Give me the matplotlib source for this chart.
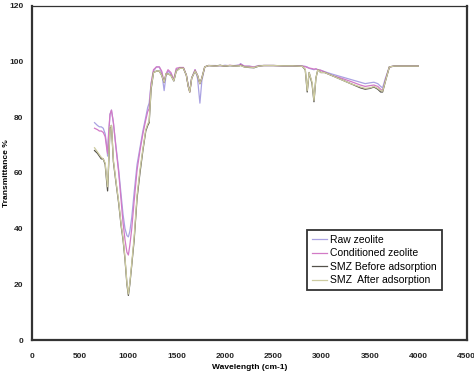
import matplotlib
matplotlib.use('Agg')
import matplotlib.pyplot as plt

plt.rcParams['font.family'] = ['Liberation Sans', 'DejaVu Sans']

# wavenumbers (cm-1) shared by all four spectra
wavenumber = [650, 680, 700, 720, 740, 760, 775, 785, 795, 810,
              825, 845, 870, 900, 925, 945, 965, 985, 1000, 1015,
              1035, 1060, 1090, 1120, 1150, 1180, 1200, 1215, 1235, 1260,
              1290, 1320, 1345, 1370, 1390, 1410, 1440, 1470, 1495, 1530,
              1570, 1600, 1620, 1635, 1655, 1690, 1715, 1740, 1760, 1790,
              1830, 1900, 1950, 2000, 2050, 2100, 2150, 2160, 2200, 2250,
              2300, 2350, 2400, 2500, 2600, 2700, 2800, 2830, 2850, 2870,
              2900, 2920, 2940, 2960, 2990, 3030, 3100, 3200, 3300, 3400,
              3450, 3500, 3540, 3580, 3610, 3630, 3660, 3700, 3750, 3850,
              4000]

raw_zeolite = [78, 77, 76.5, 76.5, 76, 74, 70, 66, 73, 81,
               82.5, 78, 70, 61, 52, 45, 40, 37.5, 37, 39,
               44, 53, 63, 69, 75, 80, 83.5, 85, 92, 96.5,
               98, 98, 96, 89.5, 95, 96.5, 95.5, 93, 97, 97.5,
               97.5, 95, 91, 89.5, 94, 97, 94, 85, 93, 98,
               98.5, 98.5, 98.3, 98.6, 98.4, 98.5, 98.7, 99.2, 98.2, 98.3,
               98, 98.5, 98.5, 98.5, 98.4, 98.4, 98.3, 98.2, 98, 97.5,
               97.2, 97, 97.3, 97, 96.8, 96.3, 95.5, 94.5, 93.5, 92.5,
               92, 92.3, 92.5, 92, 91, 90.5, 94, 98, 98.3, 98.3,
               98.3]

conditioned_zeolite = [76, 75.5, 75, 75, 74.5, 73, 69, 67, 74, 81,
                       82.5, 78, 69.5, 60, 50, 42, 36, 31.5, 30.5, 34,
                       40, 50, 61, 68, 74, 79, 82, 83, 92, 97,
                       98, 98, 96.5, 92.5, 95.5, 97, 96, 93.5, 97.5, 97.8,
                       97.8, 95, 91, 89, 94, 97, 95, 92, 94, 98,
                       98.5, 98.4, 98.5, 98.3, 98.6, 98.4, 98.6, 99.0, 98.3, 98.2,
                       98, 98.4, 98.5, 98.5, 98.4, 98.4, 98.3, 98.1, 97.8, 97.6,
                       97.4, 97.2, 97.3, 97, 96.8, 96.2, 95, 94, 92.8, 91.5,
                       91, 91.3, 91.5, 91, 90, 89.5, 93.5, 98, 98.3, 98.3,
                       98.3]

smz_before = [68, 67, 66, 65, 65, 63, 57, 53.5, 62, 76,
              77, 64, 57, 49, 41, 36, 29, 20, 16, 20,
              27, 36, 51, 60, 68, 75, 77, 78, 90, 96,
              96.5, 96.5, 95, 92.5, 95.5, 95.5, 95, 93, 96.5, 97.5,
              97.5, 95, 91, 89, 94, 96.5, 95, 92, 94, 98,
              98.5, 98.3, 98.6, 98.2, 98.5, 98.3, 98.4, 98.6, 98, 97.8,
              97.7, 98.3, 98.5, 98.5, 98.4, 98.4, 98.2, 97, 89, 96,
              92, 85.5, 94, 97, 96, 96, 95, 93.5, 92, 90.5,
              90, 90.3, 90.8, 90, 89, 89, 93, 98, 98.3, 98.3,
              98.3]

smz_after = [69, 67.5, 66.5, 65.5, 65, 63.5, 58, 55, 63, 76.5,
             77, 64.5, 57.5, 49.5, 41.5, 36.5, 29.5, 20.5, 16.5, 20.5,
             27.5, 37, 52, 61, 68.5, 75.5, 77.5, 78.5, 90.5, 96,
             96.5, 96.5, 95, 92.5, 95.5, 95.5, 95, 93, 96.5, 97.5,
             97.5, 95, 91, 89, 94, 96.5, 95, 92, 94, 98,
             98.5, 98.3, 98.5, 98.3, 98.5, 98.3, 98.4, 98.5, 98, 97.9,
             97.8, 98.3, 98.5, 98.5, 98.4, 98.4, 98.2, 97.2, 89.5, 96,
             92.5, 86, 94, 97, 96, 96, 95, 93.5, 92, 90.8,
             90.3, 90.5, 91, 90.3, 89.5, 89.3, 93, 98, 98.3, 98.3,
             98.3]

series = [
    ('Raw zeolite', raw_zeolite, '#aaa2e2'),
    ('Conditioned zeolite', conditioned_zeolite, '#d27ac6'),
    ('SMZ Before adsorption', smz_before, '#54514a'),
    ('SMZ  After adsorption', smz_after, '#cdcba0'),
]

fig = plt.figure(figsize=(4.74, 3.77), dpi=100)
ax = fig.add_axes([0.0669, 0.0981, 0.9177, 0.887])

for name, values, color in series:
    ax.plot(wavenumber, values, color=color, linewidth=0.9, label=name)

ax.set_xlim(0, 4500)
ax.set_ylim(0, 120)
ax.set_xticks(range(0, 4501, 500))
ax.set_yticks(range(0, 121, 20))
ax.tick_params(length=0, labelsize=6)
ax.tick_params(axis='x', pad=9)
ax.tick_params(axis='y', pad=6)
for lbl in ax.get_xticklabels() + ax.get_yticklabels():
    lbl.set_fontweight('bold')
    lbl.set_color('#222222')

for side in ['left', 'bottom', 'right']:
    ax.spines[side].set_linewidth(1.6)
    ax.spines[side].set_color('#333333')
ax.spines['top'].set_linewidth(0.9)
ax.spines['top'].set_color('#333333')

ax.set_xlabel('Wavelength (cm-1)', fontsize=6, fontweight='bold')
ax.set_ylabel('Transmittance %', fontsize=6, fontweight='bold')
ax.xaxis.set_label_coords(0.5, -0.072)
ax.yaxis.set_label_coords(-0.049, 0.5)

leg = ax.legend(loc='lower left', bbox_to_anchor=(0.633, 0.15), borderaxespad=0,
                fontsize=7.5, frameon=True, fancybox=False, handlelength=1.5,
                labelspacing=0.33, handletextpad=0.3, borderpad=0.45)
leg.get_frame().set_edgecolor('black')
leg.get_frame().set_linewidth(1.3)

fig.savefig('out.png', dpi=100)
